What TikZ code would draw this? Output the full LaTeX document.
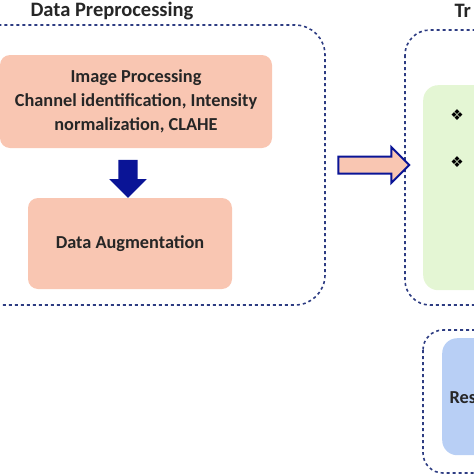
\documentclass[tikz,border=0pt]{standalone}
\usepackage{fontspec}
\setmainfont{Carlito}
\newfontfamily\symfont{DejaVu Sans}
\usetikzlibrary{%
  calc,%
  positioning,%
  shapes.arrows%
}
\definecolor{salmon}{RGB}{249,198,178}
\definecolor{paleGreen}{RGB}{228,246,212}
\definecolor{paleBlue}{RGB}{184,207,245}
\definecolor{darkBlue}{RGB}{10,20,150}
\definecolor{dashBlue}{RGB}{45,60,130}

\begin{document}
\begin{tikzpicture}[x=1pt,y=-1pt,
    txt/.style={font=\bfseries\fontsize{18.3}{24}\selectfont,align=center,text=black!85},
    titletxt/.style={font=\bfseries\fontsize{20.5}{24}\selectfont,text=black!85},
    stepbox/.style={txt,fill=salmon,rounded corners=10pt,inner sep=0pt},
    container/.style={dashed,dash pattern=on 3pt off 3pt,line width=1.6pt,dashBlue,rounded corners=#1},
    blockarrow/.style={single arrow,inner xsep=0pt,text width=0pt,text height=0pt,text depth=0pt}
  ]
  \useasboundingbox (0,0) rectangle (474,474);
  \clip (0,0) rectangle (474,474);

  % left part
  \node[titletxt] (pretitle) at (112,11) {Data Preprocessing};
  \draw[container=30pt] (-30,25) rectangle (325,305);
  \node[stepbox,minimum width=272pt,minimum height=93pt] (img) at (136,101.5)
  {Image Processing\\Channel identification, Intensity\\normalization, CLAHE};
  \node[stepbox,minimum width=204pt,minimum height=91pt] (aug) at (130,243.5)
  {Data Augmentation};
  \node[blockarrow,fill=darkBlue,inner ysep=9.5pt,single arrow head extend=9pt,
    minimum height=38pt,rotate=-90] (down) at ($(img.south)!0.5!(aug.north)+(-5,1)$) {};

  % right part
  \node[titletxt,anchor=west] (trtitle) at (451,11) {Tr};
  \draw[container=25pt] (405,30) rectangle (530,305);
  \node[fill=paleGreen,rounded corners=15pt,minimum width=120pt,minimum height=205pt,
    anchor=north west] (train) at (423,85) {};
  \node[font=\symfont\fontsize{15}{15}\selectfont] (b1) at (457,115) {❖};
  \node[font=\symfont\fontsize{15}{15}\selectfont] (b2) at (457,162) {❖};
  \node[blockarrow,fill=salmon,draw=darkBlue,line width=2pt,inner ysep=7.5pt,
    single arrow head extend=9.5pt,minimum height=71pt] (right) at (369.5,165) {};

  % results
  \draw[container=20pt] (423,330) rectangle (530,473);
  \node[fill=paleBlue,rounded corners=15pt,minimum width=100pt,minimum height=117pt,
    anchor=north west] (res) at (442,338) {};
  \node[txt,anchor=west] (restext) at (446,398) {Res};
\end{tikzpicture}
\end{document}
